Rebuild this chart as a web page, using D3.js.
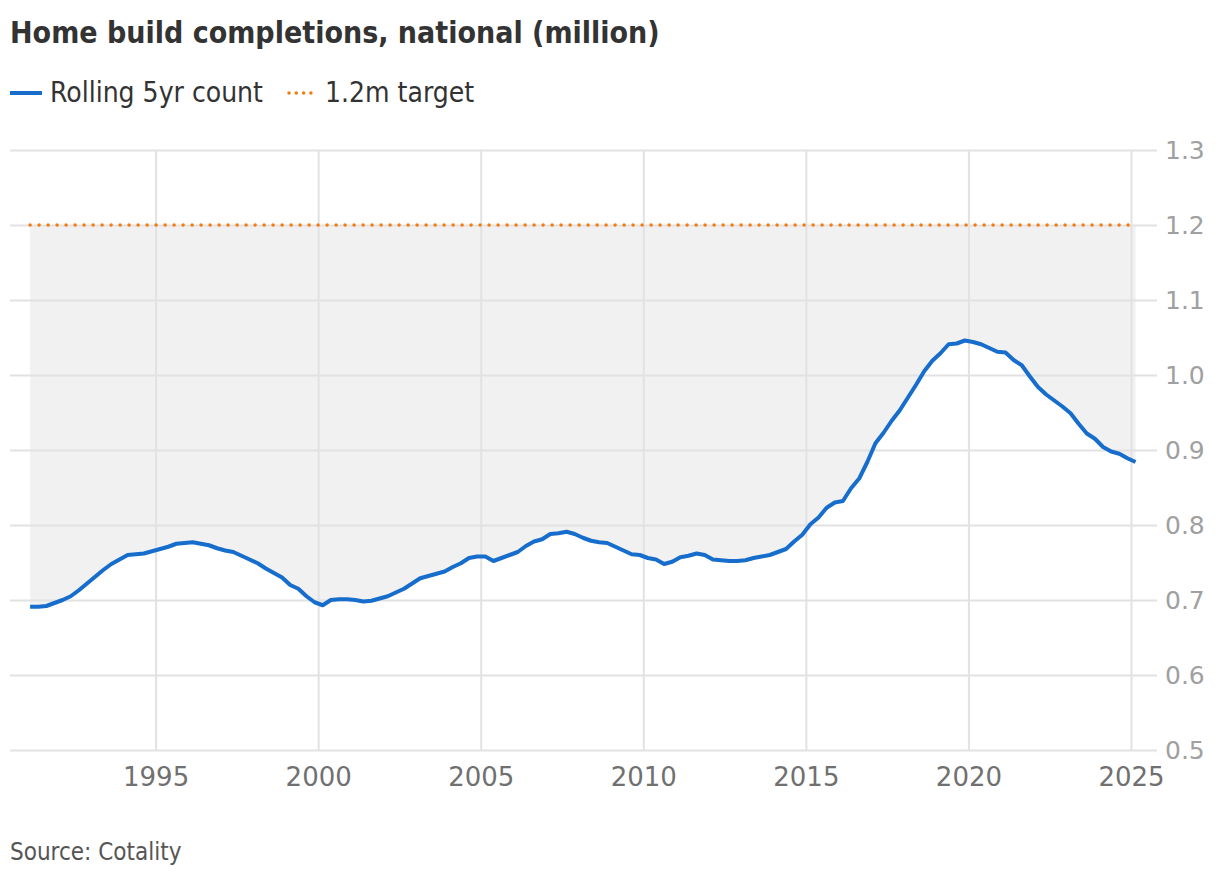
<!DOCTYPE html>
<html>
<head>
<meta charset="utf-8">
<script src="https://cdn.jsdelivr.net/npm/d3@7"></script>
<style>
  body { margin: 0; background: #fff; }
  svg { display: block; }
</style>
</head>
<body>
<div id="chart"></div>
<script>
// rolling 5yr completions (million), quarterly from early 1991
var startYear = 1991.14;
var stepYears = 0.25;
var rolling = [
  0.691, 0.691, 0.692, 0.696, 0.700, 0.705, 0.713, 0.722, 0.731, 0.740,
  0.748, 0.754, 0.760, 0.761, 0.762, 0.765, 0.768, 0.771, 0.775, 0.776,
  0.777, 0.775, 0.773, 0.769, 0.766, 0.764, 0.759, 0.754, 0.749, 0.742,
  0.736, 0.730, 0.720, 0.715, 0.705, 0.697, 0.693, 0.700, 0.701, 0.701,
  0.700, 0.698, 0.699, 0.702, 0.705, 0.710, 0.715, 0.722, 0.729, 0.732,
  0.735, 0.738, 0.744, 0.749, 0.756, 0.758, 0.758, 0.752, 0.756, 0.760,
  0.764, 0.772, 0.778, 0.781, 0.788, 0.789, 0.791, 0.788, 0.783, 0.779,
  0.777, 0.776, 0.771, 0.766, 0.761, 0.760, 0.756, 0.754, 0.748, 0.751,
  0.757, 0.759, 0.762, 0.760, 0.754, 0.753, 0.752, 0.752, 0.753, 0.756,
  0.758, 0.760, 0.764, 0.768, 0.778, 0.787, 0.801, 0.810, 0.823, 0.830,
  0.832, 0.849, 0.862, 0.884, 0.909, 0.923, 0.939, 0.953, 0.970, 0.987,
  1.005, 1.019, 1.029, 1.041, 1.042, 1.046, 1.044, 1.041, 1.036, 1.031,
  1.030, 1.020, 1.013, 0.998, 0.984, 0.974, 0.966, 0.958, 0.949, 0.935,
  0.922, 0.915, 0.904, 0.898, 0.895, 0.889, 0.884
];
var target = 1.2;
var xTicks = [1995, 2000, 2005, 2010, 2015, 2020, 2025];
var yTicks = [0.5, 0.6, 0.7, 0.8, 0.9, 1.0, 1.1, 1.2, 1.3];

var width = 1220, height = 878;
var font = "'DejaVu Sans Condensed', 'DejaVu Sans', sans-serif";

var data = rolling.map(function (v, i) {
  return { year: startYear + i * stepYears, value: v };
});

var svg = d3.select("#chart")
  .append("svg")
  .attr("width", width)
  .attr("height", height);

var x = d3.scaleLinear()
  .domain([1995, 2025])
  .range([155.6, 1131]);

var y = d3.scaleLinear()
  .domain([0.5, 1.3])
  .range([750, 150]);

// title + legend
svg.append("text")
  .attr("x", 10)
  .attr("y", 43)
  .attr("font-family", font)
  .attr("font-weight", "bold")
  .attr("font-size", 30)
  .attr("fill", "#333")
  .text("Home build completions, national (million)");

svg.append("line")
  .attr("x1", 10).attr("x2", 42)
  .attr("y1", 93).attr("y2", 93)
  .attr("stroke", "#166dcc")
  .attr("stroke-width", 4);

svg.append("text")
  .attr("x", 50)
  .attr("y", 102)
  .attr("font-family", font)
  .attr("font-size", 28)
  .attr("fill", "#333")
  .text("Rolling 5yr count");

svg.append("line")
  .attr("x1", 289).attr("x2", 318)
  .attr("y1", 93).attr("y2", 93)
  .attr("stroke", "#f57a0c")
  .attr("stroke-width", 3.5)
  .attr("stroke-linecap", "round")
  .attr("stroke-dasharray", "0,7.3");

svg.append("text")
  .attr("x", 325)
  .attr("y", 102)
  .attr("font-family", font)
  .attr("font-size", 28)
  .attr("fill", "#333")
  .text("1.2m target");

// shaded gap between target and count
svg.append("path")
  .datum(data)
  .attr("fill", "#f1f1f1")
  .attr("d", d3.area()
    .x(function (d) { return x(d.year); })
    .y0(y(target))
    .y1(function (d) { return y(d.value); }));

// grid + axes
var yAxis = svg.append("g")
  .attr("transform", "translate(10,0)")
  .call(d3.axisRight(y)
    .tickValues(yTicks)
    .tickSize(1147)
    .tickPadding(8)
    .tickFormat(d3.format(".1f")));
yAxis.select(".domain").remove();
yAxis.selectAll("line").attr("stroke", "#e2e2e2").attr("stroke-width", 2);
yAxis.selectAll("text")
  .attr("font-family", "'DejaVu Sans', sans-serif")
  .attr("font-size", 25)
  .attr("fill", "#a0a0a0");

var xAxis = svg.append("g")
  .attr("transform", "translate(0,750)")
  .call(d3.axisBottom(x)
    .tickValues(xTicks)
    .tickSize(-600)
    .tickPadding(18)
    .tickFormat(d3.format("d")));
xAxis.select(".domain").remove();
xAxis.selectAll("line").attr("stroke", "#e2e2e2").attr("stroke-width", 2);
xAxis.selectAll("text")
  .attr("font-family", "'DejaVu Sans', sans-serif")
  .attr("font-size", 26)
  .attr("fill", "#707070");

// target line
svg.append("line")
  .attr("x1", x(startYear))
  .attr("x2", x(2025))
  .attr("y1", y(target))
  .attr("y2", y(target))
  .attr("stroke", "#f57a0c")
  .attr("stroke-width", 3.5)
  .attr("stroke-linecap", "round")
  .attr("stroke-dasharray", "0,9");

// count line
svg.append("path")
  .datum(data)
  .attr("fill", "none")
  .attr("stroke", "#166dcc")
  .attr("stroke-width", 4)
  .attr("stroke-linejoin", "round")
  .attr("d", d3.line()
    .x(function (d) { return x(d.year); })
    .y(function (d) { return y(d.value); }));

svg.append("text")
  .attr("x", 10)
  .attr("y", 860)
  .attr("font-family", font)
  .attr("font-size", 24)
  .attr("fill", "#555")
  .text("Source: Cotality");
</script>
</body>
</html>
